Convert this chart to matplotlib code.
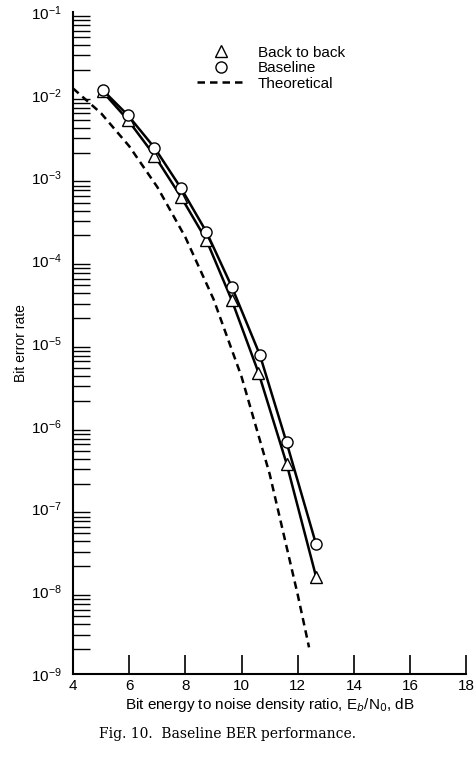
import matplotlib
matplotlib.use("Agg")
import matplotlib.pyplot as plt
from matplotlib.ticker import LogLocator, NullFormatter, FixedLocator

plt.rcParams['font.family'] = ['Liberation Sans', 'DejaVu Sans']

# Baseline (circles)
base_x = [5.05, 5.95, 6.9, 7.85, 8.75, 9.65, 10.65, 11.6, 12.65]
base_y = [1.15e-2, 5.7e-3, 2.3e-3, 7.4e-4, 2.2e-4, 4.8e-5, 7.2e-6, 6.3e-7, 3.7e-8]
# Back to back (triangles)
b2b_x = [5.05, 5.95, 6.9, 7.85, 8.75, 9.65, 10.6, 11.6, 12.65]
b2b_y = [1.1e-2, 5.0e-3, 1.85e-3, 5.8e-4, 1.75e-4, 3.3e-5, 4.4e-6, 3.5e-7, 1.5e-8]
# Theoretical (dashed)
theo_x = [4.0, 5.0, 6.0, 7.0, 8.0, 9.0, 10.0, 11.0, 12.0, 12.4]
theo_y = [1.2e-2, 6.0e-3, 2.4e-3, 7.7e-4, 1.9e-4, 3.4e-5, 3.9e-6, 2.6e-7, 9.0e-9, 2.1e-9]

fig = plt.figure(figsize=(4.74, 7.61), dpi=100)
ax = fig.add_axes([0.154, 0.1143, 0.83, 0.8697])
ax.set_yscale("log")
ax.set_xlim(4, 18); ax.set_ylim(1e-9, 1e-1)

ax.plot(theo_x, theo_y, "k--", lw=1.8, dashes=(3, 2), label="Theoretical")
ax.plot(b2b_x, b2b_y, "k-", lw=1.8, marker="^", ms=8, mfc="white", mec="k", label="Back to back")
ax.plot(base_x, base_y, "k-", lw=1.8, marker="o", ms=8, mfc="white", mec="k", label="Baseline")

for s in ("top", "right"):
    ax.spines[s].set_visible(False)
ax.spines["left"].set_linewidth(1.5); ax.spines["bottom"].set_linewidth(1.5)

ax.xaxis.set_major_locator(FixedLocator([4, 6, 8, 10, 12, 14, 16, 18]))
ax.tick_params(axis="x", direction="in", length=14, width=1.2, labelsize=11)
ax.yaxis.set_major_locator(LogLocator(base=10, numticks=12))
ax.yaxis.set_minor_locator(LogLocator(base=10, subs=range(2, 10), numticks=12))
ax.yaxis.set_minor_formatter(NullFormatter())
ax.tick_params(axis="y", which="major", direction="in", length=0, pad=8, labelsize=11)
ax.tick_params(axis="y", which="minor", direction="in", length=12, width=1.0)

h, l = ax.get_legend_handles_labels()
order = [1, 2, 0]
ax.legend([h[i] for i in order], [l[i] for i in order], loc="upper left",
          bbox_to_anchor=(0.28, 0.97), frameon=False, fontsize=11, handlelength=3.2,
          labelspacing=0.1)
ax.get_legend().legend_handles[0].set_linestyle("none")
ax.get_legend().legend_handles[1].set_linestyle("none")

ax.set_ylabel("Bit error rate", fontsize=10, labelpad=2)
ax.set_xlabel("Bit energy to noise density ratio, E$_b$/N$_0$, dB", fontsize=11, labelpad=2)
fig.text(0.48, 0.03, "Fig. 10.  Baseline BER performance.", ha="center",
         family="DejaVu Serif", fontsize=10)

fig.savefig("out.png", dpi=100)
